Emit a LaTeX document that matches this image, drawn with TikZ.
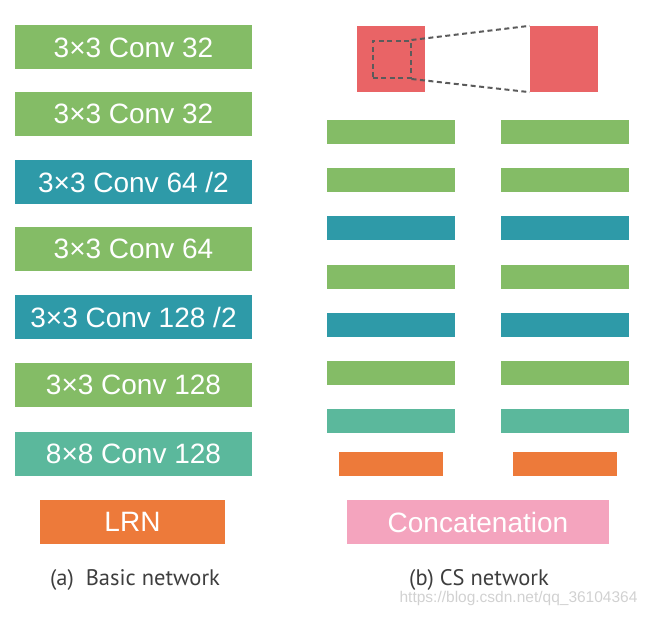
\documentclass[tikz,border=0pt]{standalone}
\usepackage{fontspec}
\setmainfont{Liberation Sans}
\newfontfamily\capfont{PT Sans}

\definecolor{convgreen}{HTML}{84BC66}
\definecolor{convteal}{HTML}{2E9AA8}
\definecolor{convsea}{HTML}{5BB89C}
\definecolor{lrnorange}{HTML}{ED7A3A}
\definecolor{cropred}{HTML}{E96466}
\definecolor{catpink}{HTML}{F4A4BE}
\definecolor{capgray}{HTML}{3E3E3E}

\tikzset{
  convbox/.style={minimum width=237pt, minimum height=44pt, inner sep=0pt,
    text=white, font=\fontsize{28}{30}\selectfont},
  bar/.style={minimum width=128pt, minimum height=24pt, inner sep=0pt},
  patch/.style={minimum width=68pt, minimum height=66pt, inner sep=0pt, fill=cropred},
  caption/.style={text=capgray, font=\capfont\fontsize{22.5}{26}\selectfont},
  zoomline/.style={capgray!85, line width=2pt, dash pattern=on 5pt off 3.5pt}
}

\begin{document}
\begin{tikzpicture}[x=1pt, y=-1pt]

  \useasboundingbox (0,0) rectangle (648,617);

  % basic network
  \node[convbox, fill=convgreen] (b1) at (133.5,47.5) {3×3 Conv 32};
  \node[convbox, fill=convgreen] (b2) at (133.5,114) {3×3 Conv 32};
  \node[convbox, fill=convteal]  (b3) at (133.5,182) {3×3 Conv 64 /2};
  \node[convbox, fill=convgreen] (b4) at (133.5,249) {3×3 Conv 64};
  \node[convbox, fill=convteal]  (b5) at (133.5,317) {3×3 Conv 128 /2};
  \node[convbox, fill=convgreen] (b6) at (133.5,385) {3×3 Conv 128};
  \node[convbox, fill=convsea]   (b7) at (133.5,454) {8×8 Conv 128};
  \node[convbox, fill=lrnorange, minimum width=185pt] (lrn) at (132.5,522) {LRN};

  \node[caption] (capa) at (135,580) {(a)\ \ Basic network};

  % CS network: input patch and zoomed patch
  \node[patch] (crop) at (391,59) {};
  \node[patch] (zoom) at (564,59) {};
  \node[zoomline, draw, minimum width=38pt, minimum height=37pt,
        inner sep=0pt] (win) at (391.5,59.5) {};
  \draw[zoomline]
    (win.north east) -- (zoom.north west)
    (win.south east) -- (zoom.south west);

  % two branches
  \foreach \y/\c [count=\i] in {132/convgreen, 180/convgreen, 228.5/convteal,
      277/convgreen, 325/convteal, 373.5/convgreen, 421/convsea} {
    \node[bar, fill=\c] (l\i) at (391,\y) {};
    \node[bar, fill=\c] (r\i) at (565,\y) {};
  }
  \node[bar, fill=lrnorange, minimum width=104pt] (l8) at (391,464) {};
  \node[bar, fill=lrnorange, minimum width=104pt] (r8) at (565,464) {};

  \node[convbox, fill=catpink, minimum width=262pt] (cat) at (478,522) {Concatenation};

  \node[caption] (capb) at (479,580) {(b) CS network};

  \node[anchor=east, text=black!18, font=\fontsize{15.5}{18}\selectfont] (mark) at (641,598) {https://blog.csdn.net/qq\_36104364};

\end{tikzpicture}
\end{document}
